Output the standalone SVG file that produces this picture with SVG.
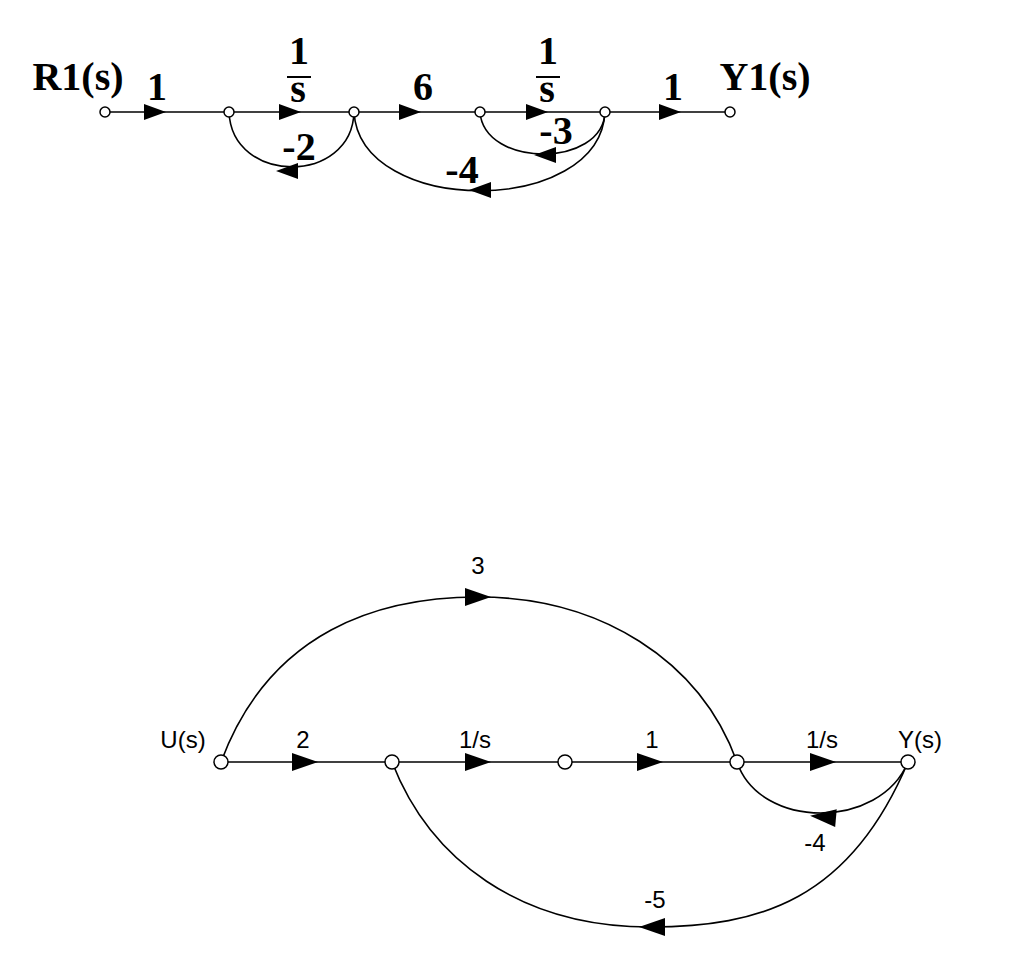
<svg xmlns="http://www.w3.org/2000/svg" width="1024" height="971" viewBox="0 0 1024 971">
<style>
.e{fill:none;stroke:#000;stroke-width:1.6}
.n{fill:#fff;stroke:#000;stroke-width:1.5}
.t{font-family:"Liberation Serif",serif;font-weight:bold;font-size:40px;text-anchor:middle}
.b{font-family:"Liberation Sans",sans-serif;font-size:24px;text-anchor:middle}
</style>
<defs>
<polygon id="ar" points="-11,-8 11,0 -11,8" fill="#000"/>
<polygon id="as" points="-13,-9 13,0 -13,9" fill="#000"/>
</defs>
<rect width="1024" height="971" fill="#fff"/>
<g id="connectors">
<line class="e" x1="105" y1="112" x2="730" y2="112"/>
<path class="e" d="M354,112 C352,185 232,185 229,112"/>
<path class="e" d="M605,112 C603,168 484,168 480,112"/>
<path class="e" d="M605,112 C600,217 360,217 354,112"/>
<use href="#ar" x="155" y="112"/><use href="#ar" x="290" y="112"/><use href="#ar" x="410" y="112"/><use href="#ar" x="537" y="112"/><use href="#ar" x="670" y="112"/>
<use href="#ar" transform="translate(287,171) rotate(180)"/>
<use href="#ar" transform="translate(545,155) rotate(180)"/>
<use href="#ar" transform="translate(480,190) rotate(180)"/>
<line class="e" x1="221" y1="762" x2="908" y2="762"/>
<path class="e" d="M221,762 C270,630 380,597 478,597 C600,597 700,660 737,762"/>
<path class="e" d="M908,762 C880,830 760,830 737,762"/>
<path class="e" d="M908,762 C850,900 760,927 650,927 C520,927 430,860 392,762"/>
<use href="#as" x="305" y="762"/><use href="#as" x="478" y="762"/><use href="#as" x="650" y="762"/><use href="#as" x="823" y="762"/>
<use href="#as" transform="translate(478,597)"/>
<use href="#as" transform="translate(823,817) rotate(185)"/>
<use href="#as" transform="translate(652,927) rotate(180)"/>
</g>
<g id="n1"><circle class="n" cx="105" cy="112" r="5"/><text class="t" x="78" y="90">R1(s)</text></g>
<g id="n2"><circle class="n" cx="229" cy="112" r="5"/></g>
<g id="n3"><circle class="n" cx="354" cy="112" r="5"/></g>
<g id="n4"><circle class="n" cx="480" cy="112" r="5"/></g>
<g id="n5"><circle class="n" cx="605" cy="112" r="5"/></g>
<g id="n6"><circle class="n" cx="730" cy="112" r="5"/><text class="t" x="765" y="90">Y1(s)</text></g>
<g id="labels1">
<text class="t" x="157" y="100">1</text>
<text class="t" x="299" y="64" font-size="36">1</text><line x1="287" y1="77" x2="311" y2="77" stroke="#000" stroke-width="2"/><text class="t" x="298" y="102">s</text>
<text class="t" x="423" y="100">6</text>
<text class="t" x="548" y="64" font-size="36">1</text><line x1="536" y1="77" x2="560" y2="77" stroke="#000" stroke-width="2"/><text class="t" x="547" y="102">s</text>
<text class="t" x="673" y="100">1</text>
<text class="t" x="299" y="160">-2</text>
<text class="t" x="556" y="144">-3</text>
<text class="t" x="462" y="183">-4</text>
</g>
<g id="u"><circle class="n" cx="221" cy="762" r="7"/><text class="b" x="183" y="748" font-size="28">U(s)</text></g>
<g id="m1"><circle class="n" cx="392" cy="762" r="7"/></g>
<g id="m2"><circle class="n" cx="565" cy="762" r="7"/></g>
<g id="m3"><circle class="n" cx="737" cy="762" r="7"/></g>
<g id="y"><circle class="n" cx="908" cy="762" r="7"/><text class="b" x="920" y="748" font-size="28">Y(s)</text></g>
<g id="labels2">
<text class="b" x="478" y="574">3</text>
<text class="b" x="303" y="748">2</text>
<text class="b" x="475" y="748">1/s</text>
<text class="b" x="652" y="748">1</text>
<text class="b" x="822" y="748">1/s</text>
<text class="b" x="815" y="851">-4</text>
<text class="b" x="655" y="908">-5</text>
</g>
</svg>
